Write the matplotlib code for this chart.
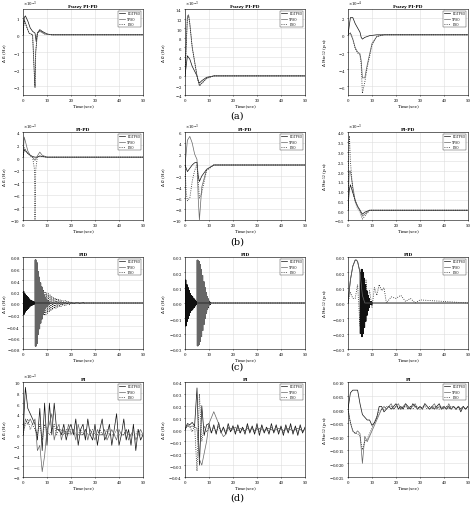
import numpy as np
import matplotlib
matplotlib.use("Agg")
import matplotlib.pyplot as plt
from matplotlib.ticker import ScalarFormatter

plt.rcParams['font.family'] = ['DejaVu Serif']
plt.rcParams['font.size'] = 3

series_names = ["EGTPSO", "TPSO", "PSO"]
titles = ["Fuzzy PI-PD", "Fuzzy PI-PD", "Fuzzy PI-PD",
          "PI-PD", "PI-PD", "PI-PD",
          "PID", "PID", "PID",
          "PI", "PI", "PI"]
ylabels = [r"$\Delta$ f$_1$ (Hz)", r"$\Delta$ f$_2$ (Hz)", r"$\Delta$ Ptie$_{12}$ (p.u)"] * 4
ylims = [(-3.5e-3, 1.5e-3), (-4e-3, 14e-3), (-7e-4, 3e-4),
         (-10e-3, 4e-3), (-10e-3, 6e-3), (-0.5e-3, 4e-3),
         (-0.08, 0.08), (-0.03, 0.03), (-0.03, 0.03),
         (-8e-3, 10e-3), (-0.04, 0.04), (-0.025, 0.01)]
exponents = [-3, -3, -4, -3, -3, -3, None, None, None, -3, None, None]
captions = ["(a)", "(b)", "(c)", "(d)"]

smooth = {
    0: [([0, .5, 1, 2, 3, 4, 5, 5.5, 6, 7, 8, 10, 12, 50], [0, 1.0, 1.1, .8, .4, .2, .1, -.4, .1, .3, .2, .05, 0, 0]),
        ([0, .5, 1.5, 2.5, 4, 4.8, 5, 5.3, 6, 7, 9, 12, 50], [0, .9, .5, .1, 0, -2.5, -3.0, -1, .1, .2, .05, 0, 0]),
        ([0, .5, 1.5, 2.5, 4, 4.8, 5, 5.3, 6, 7, 9, 12, 50], [0, .85, .45, .1, 0, -2.6, -3.1, -1, .1, .25, .05, 0, 0])],
    1: [([0, 1, 2, 3, 4, 5, 5.5, 6, 7, 9, 12, 50], [0, 4.2, 3.5, 2, 1, 0, -1, -1.5, -1, -.3, 0, 0]),
        ([0, 1, 1.5, 2, 3, 4, 5, 6, 7, 9, 12, 50], [0, 12.5, 12.8, 11, 6, 3, 0, -2, -1.5, -.5, 0, 0]),
        ([0, 1, 1.5, 2, 3, 4, 5, 6, 7, 9, 12, 50], [0, 12.3, 12.6, 10.8, 6, 3, 0, -2.1, -1.6, -.5, 0, 0])],
    2: [([0, 1, 2, 3, 4, 5, 5.5, 6, 7, 9, 12, 50], [0, 2, 2, 1.3, .8, .3, -.3, -.5, -.3, -.1, 0, 0]),
        ([0, 1, 2, 3, 4, 5, 5.5, 6, 7, 8, 10, 12, 15, 50], [0, .2, -.5, -1.5, -2, -2.2, -3, -5, -5, -3.5, -1, -.2, 0, 0]),
        ([0, 1, 2, 3, 4, 5, 5.5, 6, 7, 8, 10, 12, 15, 50], [0, .2, -.5, -1.6, -2.1, -2.4, -3.5, -6.8, -5.5, -3.8, -1.2, -.2, 0, 0])],
    3: [([0, .5, 1, 2, 3, 4, 5, 6, 7, 8, 10, 50], [0, 1.2, 1.0, .6, .3, .1, 0, 0, .2, .1, 0, 0]),
        ([0, .5, 1, 2, 3, 4, 5, 6, 7, 8, 10, 50], [0, 3.2, 2.5, 1.0, .3, 0, -.5, .2, .8, .3, 0, 0]),
        ([0, .5, 1, 2, 3, 4, 4.8, 5, 5.3, 6, 8, 10, 50], [0, 1.5, 1.2, .6, .2, 0, -2, -10, -2, .1, .1, 0, 0])],
    4: [([0, 1, 2, 3, 4, 5, 5.5, 6, 7, 9, 12, 50], [0, -1.2, -.6, 0, .4, .5, -2, -3, -2, -.8, 0, 0]),
        ([0, 1, 2, 3, 4, 5, 5.5, 6, 7, 9, 12, 50], [0, 4.5, 5.2, 4, 2, 1, -6, -10, -4, -.8, 0, 0]),
        ([0, .5, 1, 2, 3, 4, 5, 6, 7, 9, 12, 50], [0, -5, -6.5, -6, -3, -1, 0, -6, -5, -1, 0, 0])],
    5: [([0, .5, 1, 2, 3, 4, 5, 6, 7, 9, 12, 50], [0, 1, 1.3, .9, .5, .2, 0, -.2, -.1, 0, 0, 0]),
        ([0, .5, 1, 2, 3, 4, 5, 6, 7, 9, 12, 50], [0, 2, 2.0, 1.2, .5, .2, 0, -.3, -.2, 0, 0, 0]),
        ([0, .3, .6, 1, 2, 3, 4, 5, 6, 7, 9, 12, 50], [0, 3, 3.8, 2.5, 1, .4, .1, -.1, -.45, -.3, 0, 0, 0])],
}
scale = {0: 1e-3, 1: 1e-3, 2: 1e-4, 3: 1e-3, 4: 1e-3, 5: 1e-3}

osc = {
    6: [(0, [.02, .016, .013, .011, .009, .007, .005, .004, .003, .002], .06),
        (5, [.075, .07, .055, .045, .035, .028, .02, .014, .009, .006, .004, .002], .05),
        (5.5, [.03, .028, .026, .024, .022, .02, .018, .016, .014, .012, .01, .009, .008, .007, .006, .005, .004, .004, .003, .003, .002, .002, .001, .001, .001, .001, .001, .001, .001], .35)],
    7: [(0, [.015, .012, .01, .008, .006, .005, .004, .003, .002, .001], .06),
        (5, [.028, .027, .025, .022, .018, .014, .01, .007, .004, .002], .05),
        (5.5, [.02, .018, .014, .01, .006, .003, .001], .06)],
}
c3_solid_t = [0, 1, 2, 3, 3.5, 4, 5]
c3_solid_v = [0, .015, .024, .028, .028, .027, .02]
c3_osc_env = [.02, .022, .02, .016, .012, .008, .005, .003, .001, .001]
c3_dot_t = [0, 1, 2, 3, 4, 5, 5.5, 6, 6.5, 7, 7.5, 8, 9, 10, 11, 12, 13, 14, 15, 16, 18, 20, 22, 24, 26, 28, 30, 50]
c3_dot_v = [0, .007, .003, .003, .012, -.015, .022, -.01, .02, -.005, .015, 0, .008, -.003, .01, .005, .012, .008, .01, 0, .004, .003, .005, .001, .003, 0, .002, 0]

t_pi = list(range(0, 51))
d1_a = [0, 9, 5, 4, 3, 2, -1, 5, -3, 6, -2, 6, 0, 6, 1, 1, 0, 2, -1, 1, 2, 0, 3, -2, 1, 2, -1, 3, 0, -1, 2, -2, 1, 3, -1, 0, 2, -2, 1, 4, -2, 0, 3, -1, 1, -2, 2, -3, 1, -1, 0]
d1_b = [0, 3, 2, 3, 2, 3, -3, -2, -7, -4, 1, 2, 4, -1, 1, 2, -1, 1, 0, 2, 0, 1, -1, 2, 0, 0, 1, -1, 1, 0, -1, 1, 0, 0, 1, -1, 0, 1, 0, -1, 1, 0, 0, 1, -1, 0, 1, -1, 0, 1, 0]
d1_c = [0, 2, 3, 1, 2, 1, 0, 2, -1, 2, 1, 0, 1, 2, 0, 1, 1, 0, 1, 0, 1, 1, 0, 0, 1, 0, 1, 0, 0, 1, 0, 0, 1, 0, 0, 1, 0, 0, 0, 1, 0, 0, 0, 1, 0, 0, 0, 0, 1, 0, 0]
d2_a = [0, .005, .004, .006, .003, .035, -.03, .02, -.005, .004, .005, -.003, .004, -.004, .006, -.003, .002, -.004, .005, -.002, .003, -.004, .004, -.003, .002, -.004, .005, -.003, .003, -.004, .005, -.005, .004, -.003, .002, -.004, .005, -.003, .004, -.004, .003, -.005, .004, -.003, .005, -.004, .003, -.005, .004, -.003, .002]
d2_b = [0, .003, .002, .003, .002, .001, -.025, -.03, -.02, -.01, .005, .01, .015, .01, .005, -.002, -.006, -.004, .001, .001, 0, .002, -.001, .001, 0, -.001, .001, 0, .001, -.001, 0, .001, 0, -.001, 0, .001, 0, -.001, 0, .001, 0, -.001, 0, .001, 0, -.001, 0, .001, 0, -.001, 0]
d2_c = [0, .004, .003, -.002, .004, -.035, .03, -.01, .003, -.002, .003, -.003, .002, -.002, .003, -.002, .002, -.003, .002, -.002, .003, -.002, .002, -.003, .002, -.002, .003, -.002, .002, -.003, .002, -.002, .003, -.002, .002, -.003, .002, -.002, .003, -.002, .002, -.003, .002, -.002, .003, -.002, .002, -.003, .002, -.002, .001]
d3_a = [0, .006, .007, .007, .007, .002, -.002, -.003, -.004, -.004, -.006, -.005, -.003, .001, .001, -.001, 0, .001, 0, .001, .002, 0, .001, 0, .002, .001, 0, .002, .001, 0, .001, 0, .002, .001, 0, .001, 0, .001, .002, 0, .001, 0, .001, 0, .001, 0, .001, -.001, .001, 0, .001]
d3_b = [0, -.005, -.008, -.009, -.008, -.009, -.02, -.01, -.012, -.01, -.008, -.006, -.004, -.002, 0, .001, 0, .001, .002, 0, .001, .002, 0, .001, .002, 0, .001, .001, .002, 0, .001, 0, .002, .001, 0, .001, .002, 0, .001, 0, .001, 0, .002, 0, .001, 0, .001, 0, .001, 0, .001]
d3_c = [0, -.005, -.008, -.009, -.009, -.01, -.015, -.012, -.011, -.009, -.007, -.005, -.003, -.001, 0, 0, .001, .001, .001, 0, .001, .001, 0, .001, .001, 0, .001, 0, .001, .001, 0, .001, .001, 0, .001, 0, .001, .001, 0, .001, 0, .001, 0, .001, .001, 0, .001, 0, .001, 0, .001]
pi_data = {9: ([d1_a, d1_b, d1_c], 1e-3), 10: ([d2_a, d2_b, d2_c], 1), 11: ([d3_a, d3_b, d3_c], 1)}

styles = [dict(color='#111111', lw=0.5, ls='-'),
          dict(color='#666666', lw=0.5, ls='-'),
          dict(color='#222222', lw=0.6, ls=':')]

def expand_osc(t0, env, hp, seg=0.5):
    ts, vs = [0, t0], [0, 0]
    per = max(1, int(round(seg / hp)))
    i = 0
    for a in env:
        for _ in range(per):
            ts.append(t0 + (i + 0.5) * hp)
            vs.append(a * (1 if i % 2 == 0 else -1))
            i += 1
    ts += [t0 + i * hp, 50]
    vs += [0, 0]
    return ts, vs

fig = plt.figure(figsize=(4.74, 5.06), dpi=100)
W, H = 474, 506
colx = [23, 185, 348]
aw = 120
rowy = [(10, 96), (133, 221), (258, 350), (383, 478)]
capy = [116, 242, 367, 498]
labelx = [-0.12, -0.14, -0.16]

for k in range(12):
    r, c = divmod(k, 3)
    y0, y1 = rowy[r]
    ax = fig.add_axes([colx[c] / W, 1 - y1 / H, aw / W, (y1 - y0) / H])
    lines = [None, None, None]
    if k in smooth:
        for s, (tt, vv) in enumerate(smooth[k]):
            lines[s], = ax.plot(tt, np.array(vv) * scale[k], **styles[s])
    elif k in osc:
        for s in [2, 1, 0]:
            t0, env, hp = osc[k][s]
            tt, vv = expand_osc(t0, env, hp, 0.5 if s != 2 else 0.7)
            lines[s], = ax.plot(tt, vv, **styles[s])
    elif k == 8:
        lines[2], = ax.plot(c3_dot_t, c3_dot_v, **styles[2])
        tt, vv = expand_osc(5, c3_osc_env, .05)
        lines[0], = ax.plot(c3_solid_t + tt[2:], c3_solid_v + vv[2:], **styles[0])
        lines[1], = ax.plot(c3_solid_t + [6, 7, 50], c3_solid_v + [.005, 0, 0], **styles[1])
    else:
        vals, sc = pi_data[k]
        for s in [0, 1, 2]:
            lines[s], = ax.plot(t_pi, np.array(vals[s]) * sc, **styles[s])
    ax.set_xlim(0, 50)
    ax.set_ylim(*ylims[k])
    ax.set_xticks([0, 10, 20, 30, 40, 50])
    ax.grid(True, color='#dddddd', lw=0.4)
    ax.tick_params(labelsize=2.8, length=1, width=0.4, pad=1)
    for sp in ax.spines.values():
        sp.set_linewidth(0.4)
    ax.set_title(titles[k], fontsize=3.2, fontweight='bold', pad=1.5)
    ax.set_xlabel("Time(sec)", fontsize=3, labelpad=1)
    ax.set_ylabel(ylabels[k], fontsize=3)
    ax.yaxis.set_label_coords(labelx[c], 0.5)
    fmt = ScalarFormatter(useMathText=True)
    e = exponents[k]
    if e is None:
        fmt.set_scientific(False)
    else:
        fmt.set_powerlimits((e, e))
    ax.yaxis.set_major_formatter(fmt)
    ax.yaxis.get_offset_text().set_fontsize(2.8)
    leg = ax.legend(lines, series_names, loc='upper right', fontsize=2.2, frameon=True,
                    fancybox=False, edgecolor='black', handlelength=2, borderpad=0.3)
    leg.get_frame().set_linewidth(0.3)
    if c == 1:
        fig.text(0.5, 1 - capy[r] / H, captions[r], ha='center', va='center', fontsize=7)

fig.savefig("out.png", dpi=100)
